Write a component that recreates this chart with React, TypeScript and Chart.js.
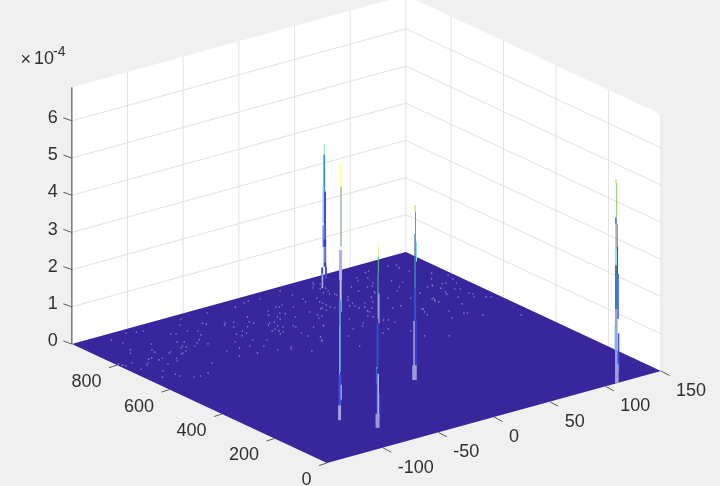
import React, { useEffect, useRef } from "react";
import { Chart, registerables } from "chart.js";

Chart.register(...registerables);

// ---- axis limits and ticks (data units; z in units of 1e-4) ----
const X_LIMITS = [-150, 150];
const Y_LIMITS = [0, 972];
const Z_LIMITS = [0, 6.9];
const xTicks = [-100, -50, 0, 50, 100, 150];
const yTicks = [0, 200, 400, 600, 800];
const zTicks = [0, 1, 2, 3, 4, 5, 6];
const exponentBase = "10";
const exponentPower = "-4";

// ---- spikes: each one is a set of thin strands at (x, y), z from low to high ----
const peakAY = 904;
const peakAX = [60.7, 60.7, 59.7, 61.3, 60, 61.3, 61.3, 58.8, 62.2, 59.1];
const peakALow = [3.58, 2.58, 1.75, 1.16, 1.1, 0.56, 0.67, 0.22, 0.22, 0];
const peakAHigh = [3.87, 3.58, 2.72, 2.58, 1.69, 1.29, 1.1, 0.56, 0.56, 0.4];

const peakBY = 202;
const peakBX = [-90.1, -89.8, -90.2, -90.1, -90.7, -91.1, -90.7, -89.6, -91.1];
const peakBLow = [6.26, 4.65, 3.76, 2.9, 1.29, 1.21, 0.4, 0.54, 0];
const peakBHigh = [6.91, 6.26, 4.57, 3.76, 3.23, 2.55, 1.21, 0.94, 0.4];

const peakCY = 109;
const peakCX = [-78, -78.2, -78.5, -77.6, -78.9, -79.8, -79.4, -78.3, -76.9, -78.9];
const peakCLow = [4.6, 4.14, 2.93, 2.8, 1.59, 1.18, 0.38, 0.24, 0.24, 0];
const peakCHigh = [4.89, 4.6, 4.14, 3.6, 2.8, 1.64, 1.59, 1.45, 0.91, 0.38];

const peakDY = 302;
const peakDX = [0.3, 0.7, 0.3, 1.6, 0.3, 0.3, 1.2, -0.6, -0.2];
const peakDLow = [4.52, 3.92, 3.2, 3.17, 2.45, 1.59, 0.3, 0.35, 0];
const peakDHigh = [4.7, 4.52, 3.92, 3.71, 3.2, 2.45, 1.59, 1.59, 0.4];

const peakEY = 1;
const peakEX = [109.8, 110.4, 109.8, 109.8, 110.9, 111.2, 109.8, 109.8, 111.6, 109.6, 108.7, 112.1, 110.1, 111.6];
const peakELow = [5.38, 4.46, 4.27, 3.6, 3.6, 2.93, 3.17, 1.72, 1.72, 1.45, 0.91, 0.24, 0, 0];
const peakEHigh = [5.48, 5.38, 4.46, 4.27, 4.27, 3.66, 3.6, 3.17, 2.93, 1.72, 1.56, 1.32, 1.99, 0.51];

// ---- small specks on the floor (x, y) ----
const speckX = [
  -36, -58, -66, -51, -50, -94, -99, -106, -82, -79, -69, -63, -66, -123, -120, -88, -84, -73, -78, -105, -73, -90, -89, -83, -93, -94, -124, -112, -113, -128, -104, -106, -98, -100, -122, -125, -116, -120, -108, -111, -130, -133, -120, -139, -148, -147, -146, -94, -131, -141, -128, -108, -116, -121, -128, -139,
  32, 34, 11, 2, -3, -13, 35, 33, 44, 41, 41, 41, 41, 42, 16, 12, 10, 20, 1, 5, 7, -4, -1, 9, 23, 24, 33, 35, 25, 21, -2, -18, -32, -38, -13, -9, -23, -22, -16, -41, -38, -3, -3, -12, -10, -17, -21, -17, -16, 7, 14, -30, -38, -38, -45, -44, -7, -7, -20, -43, -35, -55, -1, -5, -52, -44, -60, -30, -32, -41, -71, -56, -23, -70,
  60, 58, 63, 60, 54, 57, 61, 59, 56, 59, 54, 59,
  123, 129, 127, 129, 139, 102, 106, 97, 91, 88, 107, 112, 94, 90, 77, 86, 120, 125, 104, 76, 84, 83, 98, 108, 63, 59, 84, 97, 108, 107, 76, 58, 65, 71, 53, 56, 56, 60, 63, 57, 57, 75, 82, 90, 88, 59, 58, 55, 86, 53, 51, 40, 36, 37, 27, 47, 57, 39, 59, 16, 10, 35, 15, -4,
  132, 146, 144, 124, 126, 132, 135, 141, 133, 136, 124, 122, 136, 137, 125, 134, 141, 144, 110, 108, 108, 119, 91, 103, 109, 111, 117, 139, 96, 73,
];
const speckY = [
  940, 946, 917, 894, 884, 938, 942, 952, 883, 876, 875, 860, 836, 936, 905, 834, 824, 813, 800, 860, 780, 805, 794, 788, 797, 775, 859, 828, 813, 842, 791, 788, 769, 766, 787, 786, 771, 767, 751, 736, 767, 758, 733, 789, 803, 792, 783, 676, 705, 746, 671, 631, 626, 630, 655, 674,
  950, 912, 937, 944, 939, 930, 876, 858, 861, 838, 827, 813, 797, 785, 875, 869, 873, 849, 864, 837, 825, 842, 821, 795, 800, 774, 801, 803, 762, 756, 806, 863, 856, 863, 800, 798, 835, 822, 791, 853, 830, 752, 742, 773, 761, 762, 756, 746, 735, 717, 709, 812, 797, 781, 790, 773, 704, 679, 729, 736, 717, 752, 657, 634, 710, 690, 715, 647, 636, 650, 717, 664, 596, 673,
  944, 933, 929, 911, 919, 904, 900, 882, 864, 857, 879, 849,
  925, 918, 900, 870, 827, 922, 927, 892, 908, 891, 844, 822, 859, 845, 870, 847, 762, 766, 801, 838, 812, 805, 784, 741, 823, 807, 761, 729, 694, 679, 789, 785, 768, 762, 775, 767, 751, 747, 732, 724, 716, 703, 702, 656, 638, 628, 648, 654, 619, 685, 697, 668, 653, 708, 651, 602, 559, 588, 515, 622, 554, 787, 713, 639,
  798, 794, 767, 760, 737, 757, 756, 741, 713, 705, 711, 698, 672, 661, 667, 645, 628, 621, 697, 684, 668, 626, 655, 608, 577, 572, 539, 486, 568, 480,
];

// ---- drawing styles, kept apart from the values ----
const peakAColor = ["#90dcb4", "#3a90d8", "#b0d0f0", "#3a55e0", "#6a8ae8", "#3535d0", "#b0b8ec", "#3a50e0", "#4a4ae0", "#a8a8e8"];
const peakAWidth = [1, 1.8, 1.5, 2.2, 2, 2.5, 1, 2, 2, 1.5];
const peakBColor = ["#ffff99", "#6a9a6a", "#a8b0f0", "#b4c6e4", "#4a90c8", "#6ac090", "#3a50d8", "#c8c8f0", "#a0a0e0"];
const peakBWidth = [1.5, 1, 3, 2, 2, 1, 3, 1, 3];
const peakCColor = ["#e8f0a0", "#60c080", "#4a8aa8", "#c4cee4", "#3050c8", "#50b0e0", "#3a40c8", "#b4bcec", "#3a4ad8", "#9c9cdc"];
const peakCWidth = [1, 1, 1.5, 1, 2, 1.2, 1.5, 1.5, 1.2, 4];
const peakDColor = ["#c8e8a0", "#40b090", "#5a7aa8", "#90e0e0", "#3a7ab0", "#3050c8", "#3a48d8", "#a0a8e4", "#9c9cdc"];
const peakDWidth = [1.5, 1, 1.5, 1, 1.8, 2.2, 1.5, 1.5, 4.5];
const peakEColor = ["#f8d880", "#90c870", "#4a60b0", "#e0a050", "#5090c0", "#4a3ab0", "#40c0d0", "#3a80b0", "#3050e0", "#50a0c0", "#b0e8e8", "#4050e0", "#a0a0dc", "#c8c8ec"];
const peakEWidth = [1.5, 1, 1.5, 1.2, 1.2, 1, 1, 2, 1.6, 1.5, 1, 1.5, 2.5, 1];

const PAGE = "#f0f0f0";
const WALL = "#ffffff";
const GRID = "#e2e2e2";
const FLOOR = "#38269c";
const SPECK = "#8d84d2";
const AXIS = "#5a5a5a";
const TEXT = "#303030";
const FONT = '"Liberation Sans", Arial, sans-serif';

// Orthographic view of the data box onto the flat plane of the chart's two scales.
function project(x: number, y: number, z: number) {
  const u = x - X_LIMITS[0];
  return {
    x: 327 + u * 1.1133 - y * 0.2625,
    y: 463 - u * 0.3067 - y * 0.1224 - z * 37.2,
  };
}

type P = { x: number; y: number };

function lineSet(data: P[], color: string, width: number) {
  return { data, showLine: true, borderColor: color, borderWidth: width, pointRadius: 0, fill: false, tension: 0, borderCapStyle: "butt" };
}
function planeSet(data: P[], color: string) {
  return { data, showLine: true, borderWidth: 0, borderColor: color, backgroundColor: color, pointRadius: 0, fill: "shape", tension: 0 };
}
function strands(y: number, xs: number[], low: number[], high: number[], colors: string[], widths: number[]) {
  return xs.map((x, i) => lineSet([project(x, y, low[i]), project(x, y, high[i])], colors[i], widths[i]));
}

function buildDatasets() {
  const [x0, x1] = X_LIMITS;
  const [y0, y1] = Y_LIMITS;
  const [z0, z1] = Z_LIMITS;
  const sets: any[] = [];
  sets.push(planeSet([project(x0, y1, z0), project(x1, y1, z0), project(x1, y1, z1), project(x0, y1, z1), project(x0, y1, z0)], WALL));
  sets.push(planeSet([project(x1, y1, z0), project(x1, y0, z0), project(x1, y0, z1), project(x1, y1, z1), project(x1, y1, z0)], WALL));
  for (const x of xTicks) sets.push(lineSet([project(x, y1, z0), project(x, y1, z1)], GRID, 1));
  for (const y of [y0, ...yTicks.slice(1)]) sets.push(lineSet([project(x1, y, z0), project(x1, y, z1)], GRID, 1));
  for (const z of zTicks.slice(1)) {
    sets.push(lineSet([project(x0, y1, z), project(x1, y1, z), project(x1, y0, z)], GRID, 1));
  }
  sets.push(planeSet([project(x0, y0, z0), project(x1, y0, z0), project(x1, y1, z0), project(x0, y1, z0), project(x0, y0, z0)], FLOOR));
  sets.push({
    data: speckX.map((x, i) => project(x, speckY[i], 0)),
    showLine: false,
    pointRadius: 0.8,
    pointBorderWidth: 0,
    pointBackgroundColor: SPECK,
  });
  sets.push(...strands(peakAY, peakAX, peakALow, peakAHigh, peakAColor, peakAWidth));
  sets.push(...strands(peakDY, peakDX, peakDLow, peakDHigh, peakDColor, peakDWidth));
  sets.push(...strands(peakBY, peakBX, peakBLow, peakBHigh, peakBColor, peakBWidth));
  sets.push(...strands(peakCY, peakCX, peakCLow, peakCHigh, peakCColor, peakCWidth));
  sets.push(...strands(peakEY, peakEX, peakELow, peakEHigh, peakEColor, peakEWidth));
  // axis rule and tick marks
  sets.push(lineSet([project(x0, y1, z0), project(x0, y1, z1)], AXIS, 1.2));
  for (const z of zTicks) {
    const a = project(x0, y1, z);
    sets.push(lineSet([a, { x: a.x - 8.5, y: a.y - 3 }], AXIS, 1));
  }
  for (const y of yTicks) {
    const a = project(x0, y, z0);
    sets.push(lineSet([a, { x: a.x - 8, y: a.y + 2.5 }], AXIS, 1));
  }
  for (const x of xTicks) {
    const a = project(x, y0, z0);
    sets.push(lineSet([a, { x: a.x + 8.5, y: a.y + 4.5 }], AXIS, 1));
  }
  // first dataset is the top one in Chart.js, so order follows the build order backwards
  return sets.map((s, i) => ({ ...s, order: sets.length - i }));
}

const labelPlugin = {
  id: "boxLabels",
  afterDatasetsDraw(chart: any) {
    const { ctx, scales } = chart;
    const sx = (v: number) => scales.x.getPixelForValue(v);
    const sy = (v: number) => scales.y.getPixelForValue(v);
    ctx.save();
    ctx.fillStyle = TEXT;
    ctx.textBaseline = "middle";
    ctx.font = `18px ${FONT}`;
    ctx.textAlign = "right";
    for (const z of zTicks) {
      const p = project(X_LIMITS[0], Y_LIMITS[1], z);
      ctx.fillText(String(z), sx(p.x - 14), sy(p.y - 2.8));
    }
    for (const y of yTicks) {
      const p = project(X_LIMITS[0], y, 0);
      ctx.fillText(String(y), sx(p.x - 15.5), sy(p.y + 17));
    }
    ctx.textAlign = "left";
    for (const x of xTicks) {
      const p = project(x, Y_LIMITS[0], 0);
      ctx.fillText(String(x), sx(p.x + 15), sy(p.y + 20));
    }
    ctx.fillText("\u00d7", sx(20.5), sy(60.5));
    ctx.fillText(exponentBase, sx(34), sy(59.5));
    ctx.font = `14px ${FONT}`;
    ctx.fillText(exponentPower, sx(53), sy(52.5));
    ctx.restore();
  },
};

export default function App() {
  const ref = useRef<HTMLCanvasElement>(null);
  useEffect(() => {
    document.body.style.margin = "0";
    document.body.style.background = PAGE;
    const chart = new Chart(ref.current as HTMLCanvasElement, {
      type: "scatter",
      data: { datasets: buildDatasets() },
      options: {
        animation: false,
        responsive: false,
        layout: { padding: 0, autoPadding: false },
        plugins: { legend: { display: false }, tooltip: { enabled: false } },
        scales: {
          x: { type: "linear", min: 0, max: 720, display: false },
          y: { type: "linear", min: 0, max: 486, reverse: true, display: false },
        },
      },
      plugins: [labelPlugin],
    } as any);
    return () => chart.destroy();
  }, []);
  return (
    <div style={{ width: 720, height: 486, background: PAGE, overflow: "hidden" }}>
      <canvas ref={ref} width={720} height={486} style={{ display: "block", width: 720, height: 486, filter: "blur(0.35px)" }} />
    </div>
  );
}
